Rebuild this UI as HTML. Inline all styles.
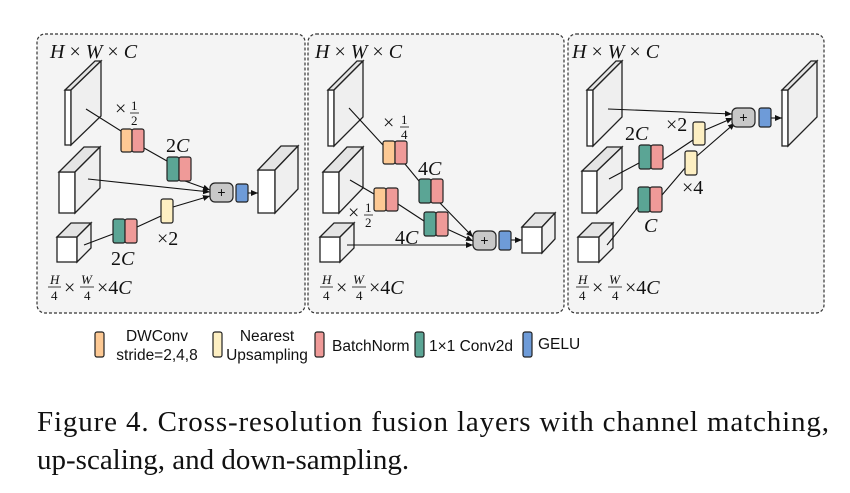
<!DOCTYPE html>
<html><head><meta charset="utf-8"><style>
html,body{margin:0;padding:0;background:#fff;}
svg{display:block}
.m{font-family:"Liberation Serif",serif;font-size:20px;fill:#111}
.i{font-style:italic}
.s{font-family:"Liberation Serif",serif;font-size:13px;fill:#111}
.l{font-family:"Liberation Sans",sans-serif;font-size:15.5px;fill:#111}
.cap{font-family:"Liberation Serif",serif;font-size:29px;fill:#111}
.f{fill:#fff;stroke:#222;stroke-width:1.3}
.t{fill:#e4e4e4;stroke:#222;stroke-width:1.3}
.sd{fill:#efefef;stroke:#222;stroke-width:1.3}
.ln{stroke:#111;stroke-width:1.1;fill:none}
.b{stroke:#222;stroke-width:1.2}
</style></head><body>
<svg width="850" height="493" viewBox="0 0 850 493" xmlns="http://www.w3.org/2000/svg">
<defs><marker id="a" markerWidth="8" markerHeight="8" refX="7" refY="4" orient="auto" markerUnits="userSpaceOnUse"><path d="M0,1 L7,4 L0,7 Z" fill="#111"/></marker></defs>
<rect x="37" y="34" width="268" height="279" rx="8" fill="#f4f4f4" stroke="#333" stroke-width="1.2" stroke-dasharray="3,2"/>
<rect x="308" y="34" width="256" height="279" rx="8" fill="#f4f4f4" stroke="#333" stroke-width="1.2" stroke-dasharray="3,2"/>
<rect x="568" y="34" width="256" height="279" rx="8" fill="#f4f4f4" stroke="#333" stroke-width="1.2" stroke-dasharray="3,2"/>

<!-- Panel 1 -->
<rect class="f" x="65" y="90" width="6" height="55"/><polygon class="t" points="65,90 95,61 101,61 71,90"/><polygon class="sd" points="71,90 101,61 101,116 71,145"/>
<rect class="f" x="59" y="172" width="16" height="41"/><polygon class="t" points="59,172 84,147 100,147 75,172"/><polygon class="sd" points="75,172 100,147 100,188 75,213"/>
<rect class="f" x="57" y="237" width="20" height="25"/><polygon class="t" points="57,237 71,223 91,223 77,237"/><polygon class="sd" points="77,237 91,223 91,248 77,262"/>
<rect class="f" x="258" y="170" width="17" height="43"/><polygon class="t" points="258,170 281,146 298,146 275,170"/><polygon class="sd" points="275,170 298,146 298,189 275,213"/>
<line class="ln" x1="86" y1="109" x2="121" y2="131"/>
<line class="ln" x1="144" y1="148" x2="167" y2="161"/>
<line class="ln" x1="185" y1="181" x2="210" y2="190" marker-end="url(#a)"/>
<line class="ln" x1="88" y1="179" x2="210" y2="192" marker-end="url(#a)"/>
<line class="ln" x1="84" y1="245" x2="113" y2="234"/>
<line class="ln" x1="137" y1="227" x2="161" y2="216"/>
<line class="ln" x1="173" y1="207" x2="210" y2="196" marker-end="url(#a)"/>
<line class="ln" x1="248" y1="193" x2="258" y2="193" marker-end="url(#a)"/>
<rect class="b" x="121" y="129" width="11" height="23" rx="2" fill="#fdc994"/><rect class="b" x="132" y="129" width="12" height="23" rx="2" fill="#ef9a98"/>
<rect class="b" x="167" y="157" width="12" height="24" rx="2" fill="#5ba595"/><rect class="b" x="179" y="157" width="12" height="24" rx="2" fill="#ef9a98"/>
<rect class="b" x="113" y="219" width="12" height="24" rx="2" fill="#5ba595"/><rect class="b" x="125" y="219" width="12" height="24" rx="2" fill="#ef9a98"/>
<rect class="b" x="161" y="199" width="12" height="24" rx="2" fill="#fdefc2"/>
<rect class="b" x="210" y="183" width="23" height="19" rx="5" fill="#c8c8c8"/><text x="221.5" y="197" text-anchor="middle" class="l" style="font-size:14px">+</text>
<rect class="b" x="236" y="184" width="12" height="18" rx="2" fill="#6e9bd8"/>
<text class="m" x="50" y="58"><tspan class="i">H</tspan> × <tspan class="i">W</tspan> × <tspan class="i">C</tspan></text>
<text class="m" x="115" y="115">×</text><text class="s" x="131" y="110">1</text><line x1="130" y1="113" x2="139" y2="113" stroke="#111" stroke-width="0.8"/><text class="s" x="131" y="125">2</text>
<text class="m" x="166" y="152">2<tspan class="i">C</tspan></text>
<text class="m" x="157" y="245">×2</text>
<text class="m" x="111" y="265">2<tspan class="i">C</tspan></text>

<!-- Panel 2 -->
<rect class="f" x="328" y="90" width="6" height="56"/><polygon class="t" points="328,90 357,61 363,61 334,90"/><polygon class="sd" points="334,90 363,61 363,117 334,146"/>
<rect class="f" x="323" y="172" width="16" height="41"/><polygon class="t" points="323,172 347,147 363,147 339,172"/><polygon class="sd" points="339,172 363,147 363,188 339,213"/>
<rect class="f" x="320" y="237" width="20" height="25"/><polygon class="t" points="320,237 334,223 354,223 340,237"/><polygon class="sd" points="340,237 354,223 354,248 340,262"/>
<rect class="f" x="522" y="227" width="20" height="26"/><polygon class="t" points="522,227 535,213 555,213 542,227"/><polygon class="sd" points="542,227 555,213 555,239 542,253"/>
<line class="ln" x1="349" y1="108" x2="383" y2="145"/>
<line class="ln" x1="405" y1="164" x2="419" y2="181"/>
<line class="ln" x1="440" y1="203" x2="473" y2="237" marker-end="url(#a)"/>
<line class="ln" x1="350" y1="180" x2="374" y2="194"/>
<line class="ln" x1="398" y1="204" x2="424" y2="221"/>
<line class="ln" x1="447" y1="229" x2="473" y2="241" marker-end="url(#a)"/>
<line class="ln" x1="347" y1="245" x2="473" y2="245" marker-end="url(#a)"/>
<line class="ln" x1="511" y1="240" x2="522" y2="240" marker-end="url(#a)"/>
<rect class="b" x="383" y="141" width="12" height="23" rx="2" fill="#fdc994"/><rect class="b" x="395" y="141" width="12" height="23" rx="2" fill="#ef9a98"/>
<rect class="b" x="419" y="179" width="12" height="24" rx="2" fill="#5ba595"/><rect class="b" x="431" y="179" width="12" height="24" rx="2" fill="#ef9a98"/>
<rect class="b" x="374" y="188" width="12" height="23" rx="2" fill="#fdc994"/><rect class="b" x="386" y="188" width="12" height="23" rx="2" fill="#ef9a98"/>
<rect class="b" x="424" y="212" width="12" height="24" rx="2" fill="#5ba595"/><rect class="b" x="436" y="212" width="12" height="24" rx="2" fill="#ef9a98"/>
<rect class="b" x="473" y="231" width="23" height="19" rx="5" fill="#c8c8c8"/><text x="484.5" y="245" text-anchor="middle" class="l" style="font-size:14px">+</text>
<rect class="b" x="499" y="231" width="12" height="19" rx="2" fill="#6e9bd8"/>
<text class="m" x="315" y="58"><tspan class="i">H</tspan> × <tspan class="i">W</tspan> × <tspan class="i">C</tspan></text>
<text class="m" x="383" y="129">×</text><text class="s" x="401" y="124">1</text><line x1="400" y1="127" x2="409" y2="127" stroke="#111" stroke-width="0.8"/><text class="s" x="401" y="139">4</text>
<text class="m" x="418" y="175">4<tspan class="i">C</tspan></text>
<text class="m" x="348" y="219">×</text><text class="s" x="365" y="212">1</text><line x1="364" y1="215" x2="373" y2="215" stroke="#111" stroke-width="0.8"/><text class="s" x="365" y="227">2</text>
<text class="m" x="395" y="244">4<tspan class="i">C</tspan></text>

<!-- Panel 3 -->
<rect class="f" x="587" y="90" width="6" height="56"/><polygon class="t" points="587,90 616,61 622,61 593,90"/><polygon class="sd" points="593,90 622,61 622,117 593,146"/>
<rect class="f" x="582" y="171" width="15" height="42"/><polygon class="t" points="582,171 607,147 622,147 597,171"/><polygon class="sd" points="597,171 622,147 622,189 597,213"/>
<rect class="f" x="578" y="237" width="21" height="25"/><polygon class="t" points="578,237 592,223 613,223 599,237"/><polygon class="sd" points="599,237 613,223 613,248 599,262"/>
<rect class="f" x="782" y="90" width="6" height="56"/><polygon class="t" points="782,90 811,61 817,61 788,90"/><polygon class="sd" points="788,90 817,61 817,117 788,146"/>
<line class="ln" x1="608" y1="109" x2="732" y2="114" marker-end="url(#a)"/>
<line class="ln" x1="609" y1="179" x2="639" y2="163"/>
<line class="ln" x1="663" y1="160" x2="693" y2="140"/>
<line class="ln" x1="705" y1="130" x2="733" y2="118" marker-end="url(#a)"/>
<line class="ln" x1="607" y1="245" x2="638" y2="207"/>
<line class="ln" x1="662" y1="195" x2="685" y2="168"/>
<line class="ln" x1="697" y1="156" x2="735" y2="123" marker-end="url(#a)"/>
<line class="ln" x1="771" y1="118" x2="782" y2="118" marker-end="url(#a)"/>
<rect class="b" x="639" y="145" width="12" height="24" rx="2" fill="#5ba595"/><rect class="b" x="651" y="145" width="12" height="24" rx="2" fill="#ef9a98"/>
<rect class="b" x="693" y="122" width="12" height="23" rx="2" fill="#fdefc2"/>
<rect class="b" x="638" y="187" width="12" height="25" rx="2" fill="#5ba595"/><rect class="b" x="650" y="187" width="12" height="25" rx="2" fill="#ef9a98"/>
<rect class="b" x="685" y="151" width="12" height="24" rx="2" fill="#fdefc2"/>
<rect class="b" x="732" y="108" width="23" height="19" rx="5" fill="#c8c8c8"/><text x="743.5" y="122" text-anchor="middle" class="l" style="font-size:14px">+</text>
<rect class="b" x="759" y="108" width="12" height="19" rx="2" fill="#6e9bd8"/>
<text class="m" x="572" y="58"><tspan class="i">H</tspan> × <tspan class="i">W</tspan> × <tspan class="i">C</tspan></text>
<text class="m" x="625" y="140">2<tspan class="i">C</tspan></text>
<text class="m" x="666" y="131">×2</text>
<text class="m" x="682" y="194">×4</text>
<text class="m i" x="644" y="232">C</text>

<!-- bottom labels -->
<g>
<text class="s i" x="50" y="284">H</text><line x1="48" y1="287" x2="61" y2="287" stroke="#111" stroke-width="0.8"/><text class="s" x="51" y="300">4</text>
<text class="m" x="64" y="294">×</text>
<text class="s i" x="81" y="284">W</text><line x1="80" y1="287" x2="94" y2="287" stroke="#111" stroke-width="0.8"/><text class="s" x="84" y="300">4</text>
<text class="m" x="97" y="294">×4<tspan class="i">C</tspan></text>
</g>
<g transform="translate(272,0)">
<text class="s i" x="50" y="284">H</text><line x1="48" y1="287" x2="61" y2="287" stroke="#111" stroke-width="0.8"/><text class="s" x="51" y="300">4</text>
<text class="m" x="64" y="294">×</text>
<text class="s i" x="81" y="284">W</text><line x1="80" y1="287" x2="94" y2="287" stroke="#111" stroke-width="0.8"/><text class="s" x="84" y="300">4</text>
<text class="m" x="97" y="294">×4<tspan class="i">C</tspan></text>
</g>
<g transform="translate(528,0)">
<text class="s i" x="50" y="284">H</text><line x1="48" y1="287" x2="61" y2="287" stroke="#111" stroke-width="0.8"/><text class="s" x="51" y="300">4</text>
<text class="m" x="64" y="294">×</text>
<text class="s i" x="81" y="284">W</text><line x1="80" y1="287" x2="94" y2="287" stroke="#111" stroke-width="0.8"/><text class="s" x="84" y="300">4</text>
<text class="m" x="97" y="294">×4<tspan class="i">C</tspan></text>
</g>

<!-- legend -->
<rect class="b" x="95" y="332" width="9" height="25" rx="2" fill="#fdc994"/>
<text class="l" x="157" y="341" text-anchor="middle">DWConv</text><text class="l" x="157" y="360" text-anchor="middle">stride=2,4,8</text>
<rect class="b" x="213" y="332" width="9" height="25" rx="2" fill="#fdefc2"/>
<text class="l" x="267" y="341" text-anchor="middle">Nearest</text><text class="l" x="267" y="360" text-anchor="middle">Upsampling</text>
<rect class="b" x="315" y="332" width="9" height="25" rx="2" fill="#ef9a98"/>
<text class="l" x="332" y="351">BatchNorm</text>
<rect class="b" x="415" y="332" width="9" height="25" rx="2" fill="#5ba595"/>
<text class="l" x="429" y="351">1×1 Conv2d</text>
<rect class="b" x="523" y="332" width="9" height="25" rx="2" fill="#6e9bd8"/>
<text class="l" x="538" y="349">GELU</text>

<!-- caption -->
<text class="cap" x="37" y="431" textLength="792" lengthAdjust="spacing">Figure 4.  Cross-resolution fusion layers with channel matching,</text>
<text class="cap" x="37" y="469">up-scaling, and down-sampling.</text>
</svg>
</body></html>
